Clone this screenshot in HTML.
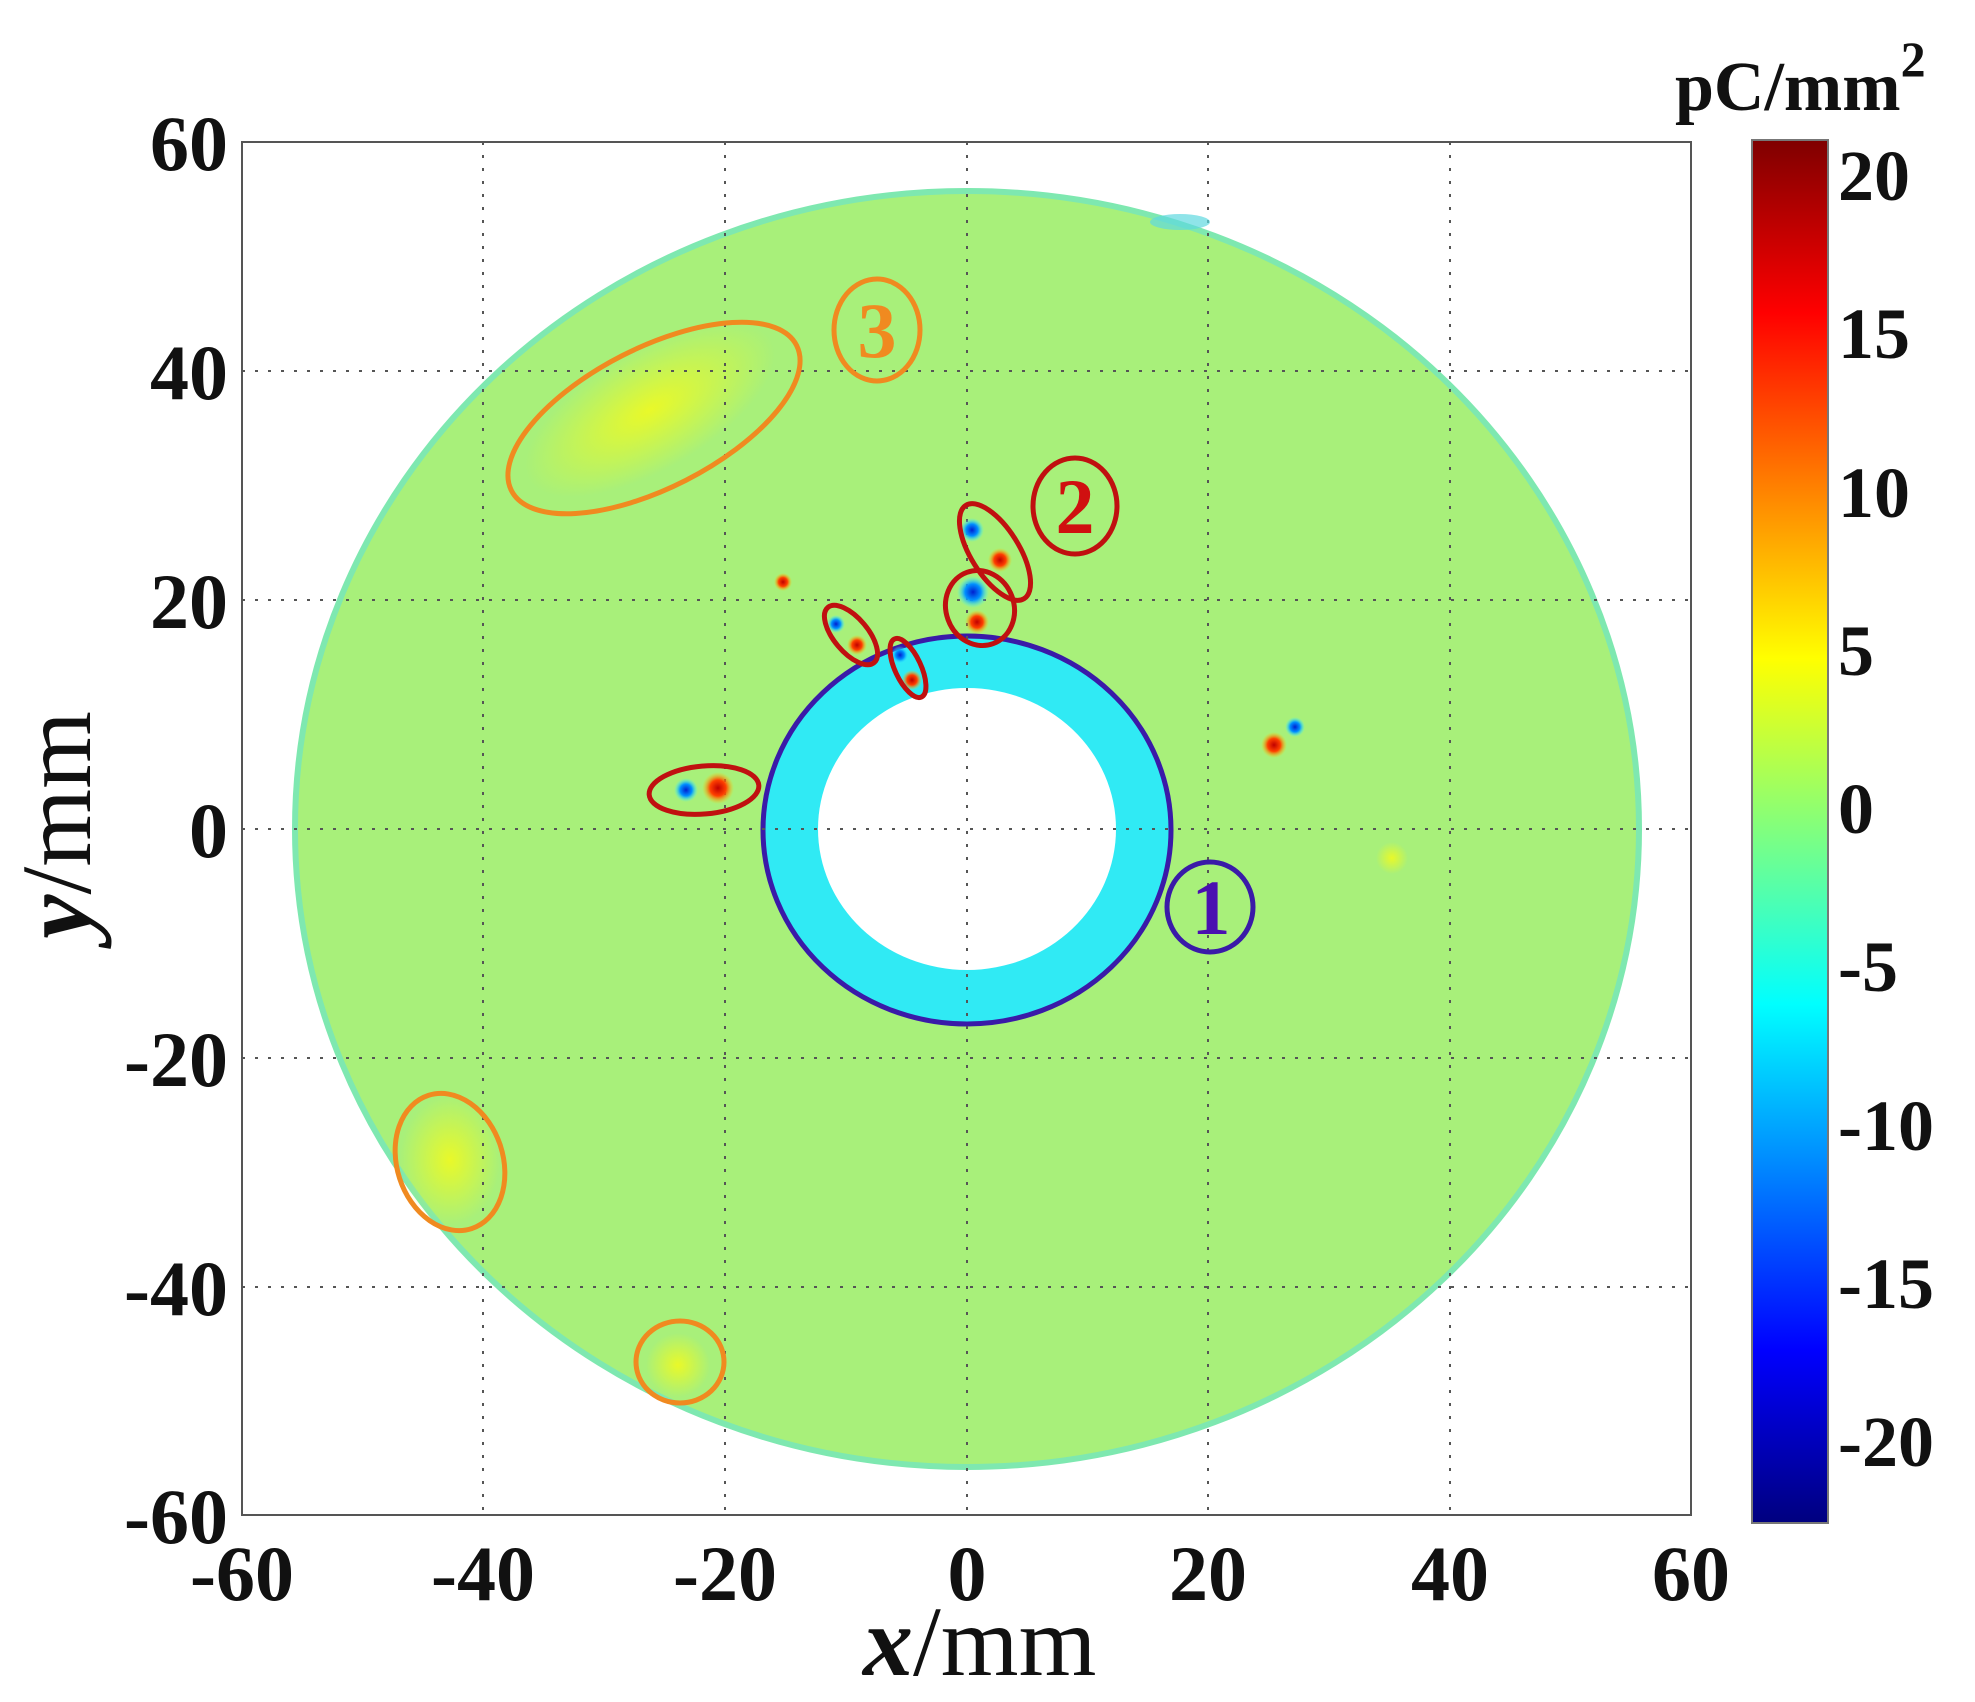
<!DOCTYPE html>
<html><head><meta charset="utf-8"><style>
html,body{margin:0;padding:0;background:#fff;}
svg{display:block;}
text{font-family:"Liberation Serif",serif;font-weight:bold;fill:#111;}
</style></head><body>
<svg width="1975" height="1702" viewBox="0 0 1975 1702" xmlns="http://www.w3.org/2000/svg">
<defs>
<linearGradient id="jet" x1="0" y1="1" x2="0" y2="0">
<stop offset="0" stop-color="#00007f"/>
<stop offset="0.125" stop-color="#0000ff"/>
<stop offset="0.375" stop-color="#00ffff"/>
<stop offset="0.625" stop-color="#ffff00"/>
<stop offset="0.875" stop-color="#ff0000"/>
<stop offset="1" stop-color="#7f0000"/>
</linearGradient>
<radialGradient id="yel" cx="0.5" cy="0.5" r="0.5">
<stop offset="0" stop-color="#f0fa20" stop-opacity="0.9"/>
<stop offset="1" stop-color="#f0fa20" stop-opacity="0"/>
</radialGradient>
<radialGradient id="red" cx="0.5" cy="0.5" r="0.5">
<stop offset="0" stop-color="#c00000"/>
<stop offset="0.5" stop-color="#ff4000"/>
<stop offset="1" stop-color="#ffd000" stop-opacity="0"/>
</radialGradient>
<radialGradient id="blu" cx="0.5" cy="0.5" r="0.5">
<stop offset="0" stop-color="#0020d0"/>
<stop offset="0.5" stop-color="#0090ff"/>
<stop offset="1" stop-color="#40ffff" stop-opacity="0"/>
</radialGradient>
</defs>

<rect x="242" y="142" width="1449" height="1373" fill="#fff" stroke="#555" stroke-width="2"/>

<ellipse cx="967" cy="829" rx="672" ry="638" fill="#a8f07a"/>
<ellipse cx="967" cy="829" rx="672" ry="638" fill="none" stroke="#7ee8b0" stroke-width="6"/>
<ellipse cx="650" cy="410" rx="140" ry="60" transform="rotate(-30 650 410)" fill="url(#yel)"/>
<ellipse cx="450" cy="1160" rx="50" ry="65" fill="url(#yel)"/>
<ellipse cx="678" cy="1365" rx="32" ry="32" fill="url(#yel)"/>
<ellipse cx="967" cy="830" rx="204" ry="194" fill="#30eaf4"/>
<ellipse cx="967" cy="829" rx="149" ry="141" fill="#fff"/>
<ellipse cx="967" cy="830" rx="204" ry="194" fill="none" stroke="#3a1aa8" stroke-width="5"/>

<g stroke="#555" stroke-width="2" stroke-dasharray="3,10">
<line x1="483" y1="142" x2="483" y2="1515"/>
<line x1="725" y1="142" x2="725" y2="1515"/>
<line x1="967" y1="142" x2="967" y2="1515"/>
<line x1="1208" y1="142" x2="1208" y2="1515"/>
<line x1="1450" y1="142" x2="1450" y2="1515"/>
<line x1="242" y1="371" x2="1691" y2="371"/>
<line x1="242" y1="600" x2="1691" y2="600"/>
<line x1="242" y1="829" x2="1691" y2="829"/>
<line x1="242" y1="1058" x2="1691" y2="1058"/>
<line x1="242" y1="1287" x2="1691" y2="1287"/>
</g>

<circle cx="686" cy="790" r="12" fill="url(#blu)"/>
<circle cx="718" cy="788" r="16" fill="url(#red)"/>
<circle cx="836" cy="624" r="9" fill="url(#blu)"/>
<circle cx="857" cy="645" r="10" fill="url(#red)"/>
<circle cx="900" cy="655" r="9" fill="url(#blu)"/>
<circle cx="912" cy="680" r="10" fill="url(#red)"/>
<circle cx="973" cy="592" r="16" fill="url(#blu)"/>
<circle cx="977" cy="622" r="12" fill="url(#red)"/>
<circle cx="972" cy="530" r="12" fill="url(#blu)"/>
<circle cx="1000" cy="560" r="12" fill="url(#red)"/>
<circle cx="783" cy="582" r="9" fill="url(#red)"/>
<circle cx="1274" cy="745" r="13" fill="url(#red)"/>
<circle cx="1295" cy="727" r="10" fill="url(#blu)"/>
<circle cx="1392" cy="858" r="16" fill="url(#yel)"/>
<ellipse cx="1180" cy="222" rx="30" ry="8" fill="#60d8e0" opacity="0.7"/>

<g fill="none" stroke-width="5">
<ellipse cx="654" cy="418" rx="160" ry="70" transform="rotate(-27 654 418)" stroke="#f08a20"/>
<ellipse cx="877" cy="330" rx="43" ry="51" stroke="#f08a20"/>
<ellipse cx="450" cy="1162" rx="53" ry="70" transform="rotate(-18 450 1162)" stroke="#f08a20"/>
<ellipse cx="680" cy="1362" rx="44" ry="41" stroke="#f08a20"/>
<ellipse cx="704" cy="790" rx="55" ry="24" transform="rotate(-5 704 790)" stroke="#c01010"/>
<ellipse cx="851" cy="635" rx="36" ry="17" transform="rotate(50 851 635)" stroke="#c01010"/>
<ellipse cx="908" cy="668" rx="32" ry="13" transform="rotate(65 908 668)" stroke="#c01010"/>
<ellipse cx="980" cy="608" rx="34" ry="38" transform="rotate(-20 980 608)" stroke="#c01010"/>
<ellipse cx="995" cy="552" rx="55" ry="24" transform="rotate(58 995 552)" stroke="#c01010"/>
<ellipse cx="1075" cy="506" rx="42" ry="48" stroke="#c01010"/>
<ellipse cx="1210" cy="907" rx="43" ry="45" stroke="#3a1aa8"/>
</g>
<text x="877" y="357" font-size="78" text-anchor="middle" style="fill:#f08a20">3</text>
<text x="1075" y="533" font-size="78" text-anchor="middle" style="fill:#d01010">2</text>
<text x="1211" y="934" font-size="78" text-anchor="middle" style="fill:#4a10b0">1</text>

<g font-size="78" text-anchor="middle">
<text x="242" y="1600">-60</text>
<text x="483" y="1600">-40</text>
<text x="725" y="1600">-20</text>
<text x="967" y="1600">0</text>
<text x="1208" y="1600">20</text>
<text x="1450" y="1600">40</text>
<text x="1691" y="1600">60</text>
</g>
<g font-size="78" text-anchor="end">
<text x="228" y="170">60</text>
<text x="228" y="399">40</text>
<text x="228" y="628">20</text>
<text x="228" y="857">0</text>
<text x="228" y="1086">-20</text>
<text x="228" y="1315">-40</text>
<text x="228" y="1543">-60</text>
</g>
<text x="863" y="1675" font-size="100" style="font-weight:normal"><tspan style="font-weight:bold;font-style:italic">x</tspan>/mm</text>
<text transform="translate(90 825) rotate(-90)" font-size="100" text-anchor="middle" style="font-weight:normal"><tspan style="font-weight:bold;font-style:italic">y</tspan>/mm</text>

<rect x="1752" y="140" width="76" height="1383" fill="url(#jet)" stroke="#777" stroke-width="2"/>
<g font-size="72" text-anchor="start">
<text x="1838" y="200">20</text>
<text x="1838" y="358">15</text>
<text x="1838" y="517">10</text>
<text x="1838" y="675">5</text>
<text x="1838" y="833">0</text>
<text x="1838" y="991">-5</text>
<text x="1838" y="1150">-10</text>
<text x="1838" y="1308">-15</text>
<text x="1838" y="1466">-20</text>
</g>
<text x="1675" y="110" font-size="70">pC/mm<tspan font-size="50" dy="-34">2</tspan></text>
</svg>
</body></html>
